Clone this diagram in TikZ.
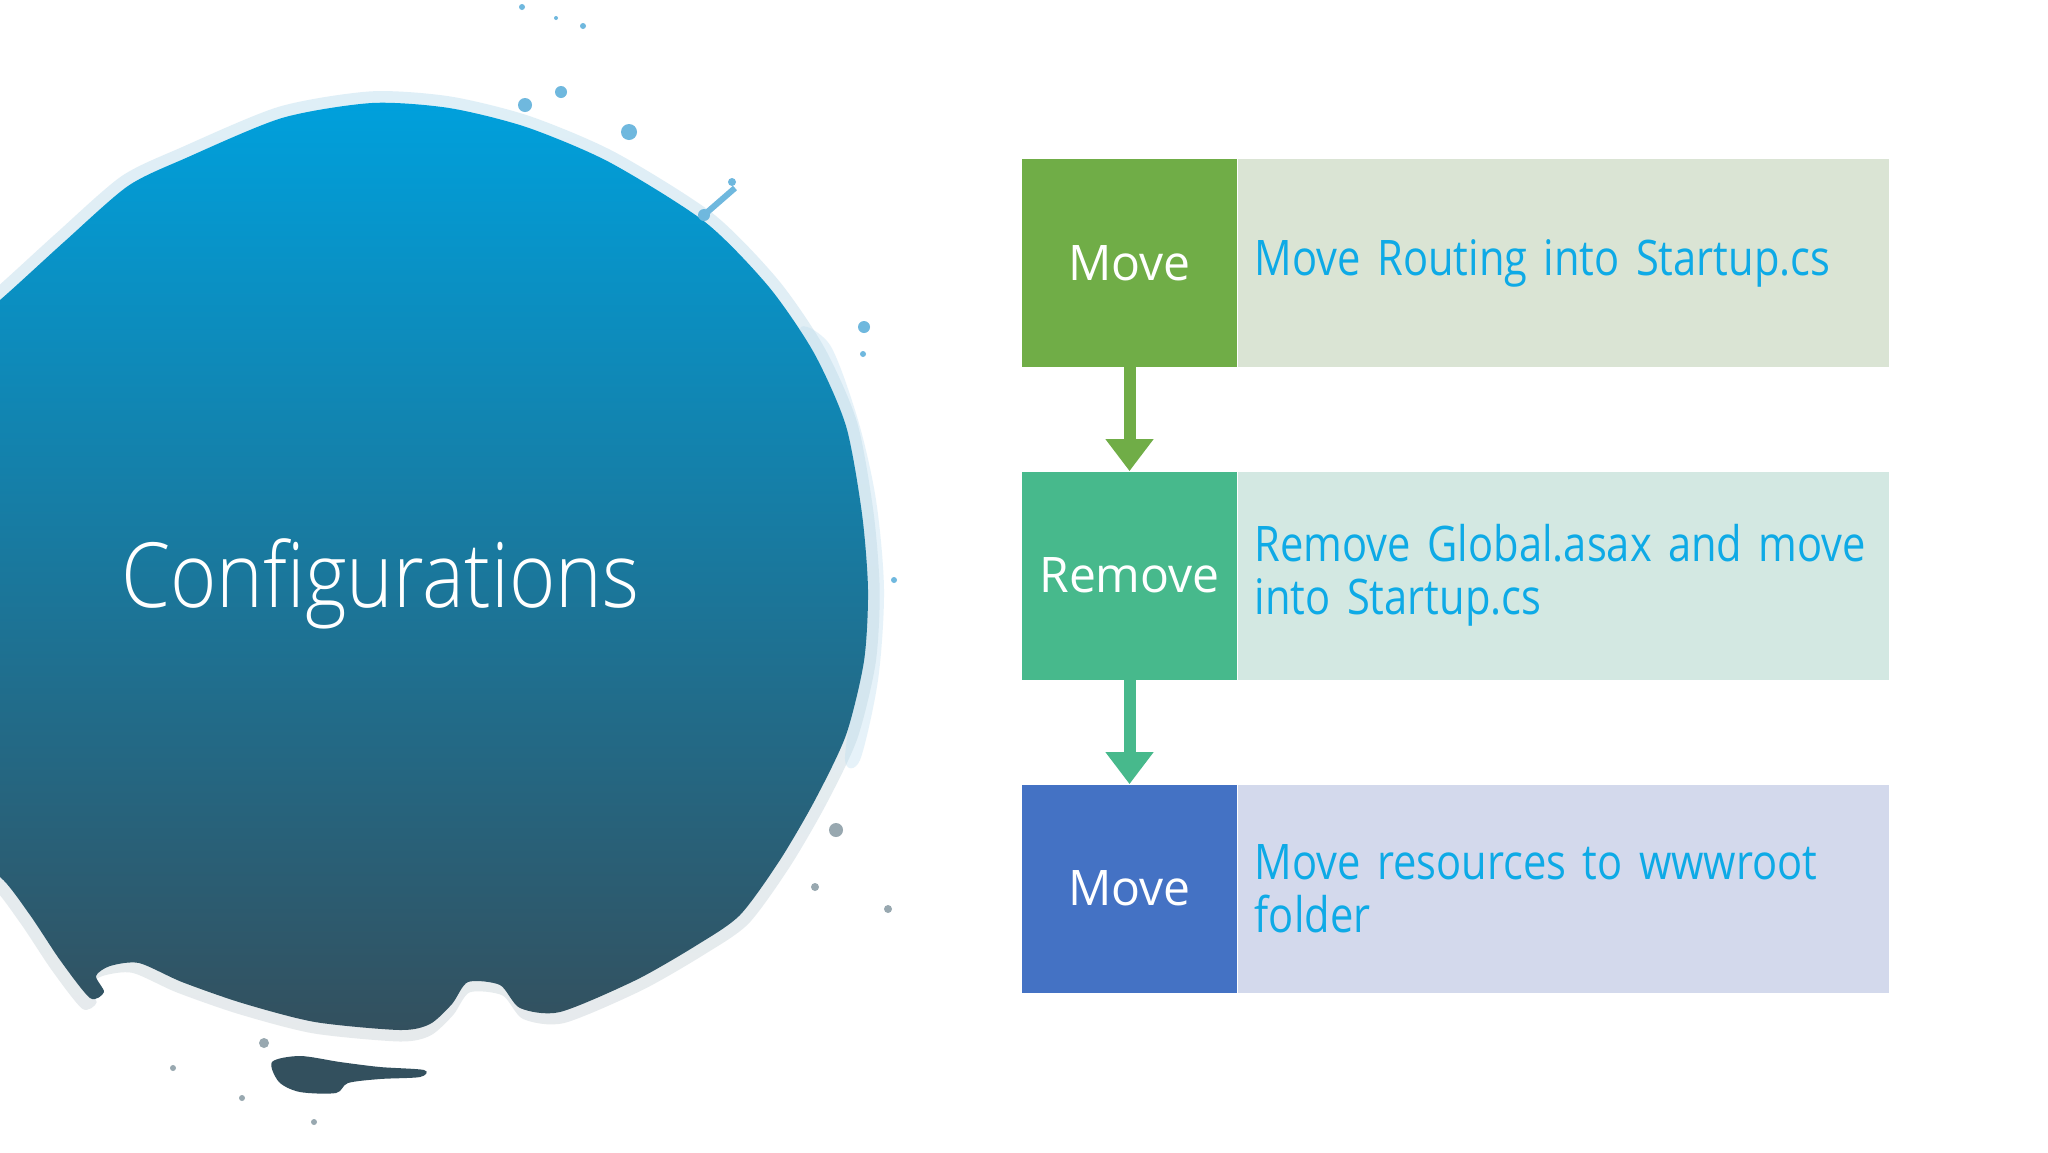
\documentclass[tikz,border=0pt]{standalone}
\usepackage{fontspec}
\setmainfont{Open Sans}[FakeStretch=0.85, WordSpace=0.8]
\newfontfamily\labelfont{Open Sans}[FakeStretch=0.98]
\newfontfamily\titlefont{Open Sans Light}[FakeStretch=0.88]
\usetikzlibrary{arrows.meta}
\definecolor{mgreen}{HTML}{70AD47}
\definecolor{mteal}{HTML}{47B98C}
\definecolor{mblue}{HTML}{4472C4}
\definecolor{lgreen}{HTML}{DAE4D4}
\definecolor{lteal}{HTML}{D3E8E2}
\definecolor{lblue}{HTML}{D3D9EC}
\definecolor{txtblue}{HTML}{0EAAE6}
\definecolor{blobtop}{HTML}{00A0DC}
\definecolor{blobmid}{HTML}{1385B4}
\definecolor{blobbot}{HTML}{33505E}
\definecolor{fringetop}{HTML}{B9DCEE}
\definecolor{fringebot}{HTML}{C9D2D7}
\definecolor{dotblue}{HTML}{6FB8DE}
\definecolor{dotgray}{HTML}{98A8B0}
\tikzset{
  labelbox/.style={draw=none, inner sep=0pt, minimum width=107.5pt, minimum height=104pt,
    text=white, font=\labelfont\fontsize{24.5pt}{26.5pt}\selectfont},
  descbox/.style={draw=none, inner xsep=8.5pt, inner ysep=0pt, text width=308.5pt,
    minimum height=104pt, align=left, text=txtblue,
    font=\fontsize{24.5pt}{26.5pt}\selectfont},
  flowarrow/.style={line width=6pt, -{Triangle[width=23pt,length=16pt]}},
}
\begin{document}
\begin{tikzpicture}[x=0.5pt,y=-0.5pt]
\useasboundingbox (0,0) rectangle (2048,1152);
\fill[white] (0,0) rectangle (2048,1152);

% fringe of the splash
\begin{scope}[shift={(400,570)}, scale=1.025, shift={(-400,-570)}]
\shade[top color=fringetop, bottom color=fringebot, opacity=0.45]
  plot[smooth cycle, tension=0.45] coordinates {
  (-40,330) (0,300) (64,242) (128,186) (186,158) (282,118) (372,103) (449,108)
  (526,127) (609,162) (705,222) (769,287) (814,353) (846,426) (862,514) (868,590)
  (864,661) (846,735) (815,800) (780,860) (740,915) (697,945) (636,980) (560,1012)
  (520,1008) (500,985) (468,982) (452,1004) (430,1024) (400,1030) (315,1022)
  (242,1003) (182,982) (139,963) (110,966) (96,976) (104,992) (90,998)
  (60,960) (30,915) (0,877) (-40,860)};
\end{scope}
% extra rough fringe on the right edge
\fill[fringetop, opacity=0.35] plot[smooth cycle, tension=0.5] coordinates {
  (800,330) (830,345) (858,420) (876,500) (884,590) (878,680) (860,760) (845,760)
  (855,680) (860,590) (852,500) (836,420)};

% main splash
\shade[top color=blobtop, middle color=blobmid, bottom color=blobbot]
  plot[smooth cycle, tension=0.45] coordinates {
  (-40,330) (0,300) (64,242) (128,186) (186,158) (282,118) (372,103) (449,108)
  (526,127) (609,162) (705,222) (769,287) (814,353) (846,426) (862,514) (868,590)
  (864,661) (846,735) (815,800) (780,860) (740,915) (697,945) (636,980) (560,1012)
  (520,1008) (500,985) (468,982) (452,1004) (430,1024) (400,1030) (315,1022)
  (242,1003) (182,982) (139,963) (110,966) (96,976) (104,992) (90,998)
  (60,960) (30,915) (0,877) (-40,860)};

% detached stroke
\fill[blobbot] plot[smooth cycle, tension=0.5] coordinates {
  (272,1062) (300,1056) (340,1062) (380,1067) (424,1070) (420,1077)
  (380,1079) (348,1083) (336,1093) (300,1092) (279,1082)};

% splatter dots
\foreach \px/\py/\r in {561/92/6, 525/105/7, 629/132/8, 704/215/6, 732/182/4,
  864/327/6, 863/354/3, 894/580/3, 522/7/3, 583/26/3, 556/18/2}
  \fill[dotblue] (\px,\py) circle[radius=\r];
\draw[dotblue, line width=3pt] (704,215) -- (735,188);
\foreach \px/\py/\r in {836/830/7, 815/887/4, 888/909/4, 242/1098/3, 314/1122/3,
  173/1068/3, 264/1043/5}
  \fill[dotgray] (\px,\py) circle[radius=\r];

% title
\node[anchor=base west, inner sep=0pt, text=white,
  font=\titlefont\fontsize{45pt}{50pt}\selectfont] (title) at (121,607) {Configurations};

% flow boxes
\node[labelbox, fill=mgreen] (m1) at (1129.5,263) {Move};
\node[descbox, fill=lgreen, anchor=west] (d1) at (m1.east) {\raisebox{-2pt}{\mbox{Move Routing into Startup.cs}}};
\node[labelbox, fill=mteal] (m2) at (1129.5,575.5) {Remove};
\node[descbox, fill=lteal, anchor=west] (d2) at (m2.east) {\raisebox{-2pt}{\mbox{Remove Global.asax and move}}\\\raisebox{-2pt}{\mbox{into Startup.cs}}};
\node[labelbox, fill=mblue] (m3) at (1129.5,888.5) {Move};
\node[descbox, fill=lblue, anchor=west] (d3) at (m3.east) {\raisebox{-2pt}{\mbox{Move resources to wwwroot}}\\\raisebox{-2pt}{\mbox{folder}}};

\draw[flowarrow, mgreen] (m1.south) -- (m2.north);
\draw[flowarrow, mteal] (m2.south) -- (m3.north);
\end{tikzpicture}
\end{document}
